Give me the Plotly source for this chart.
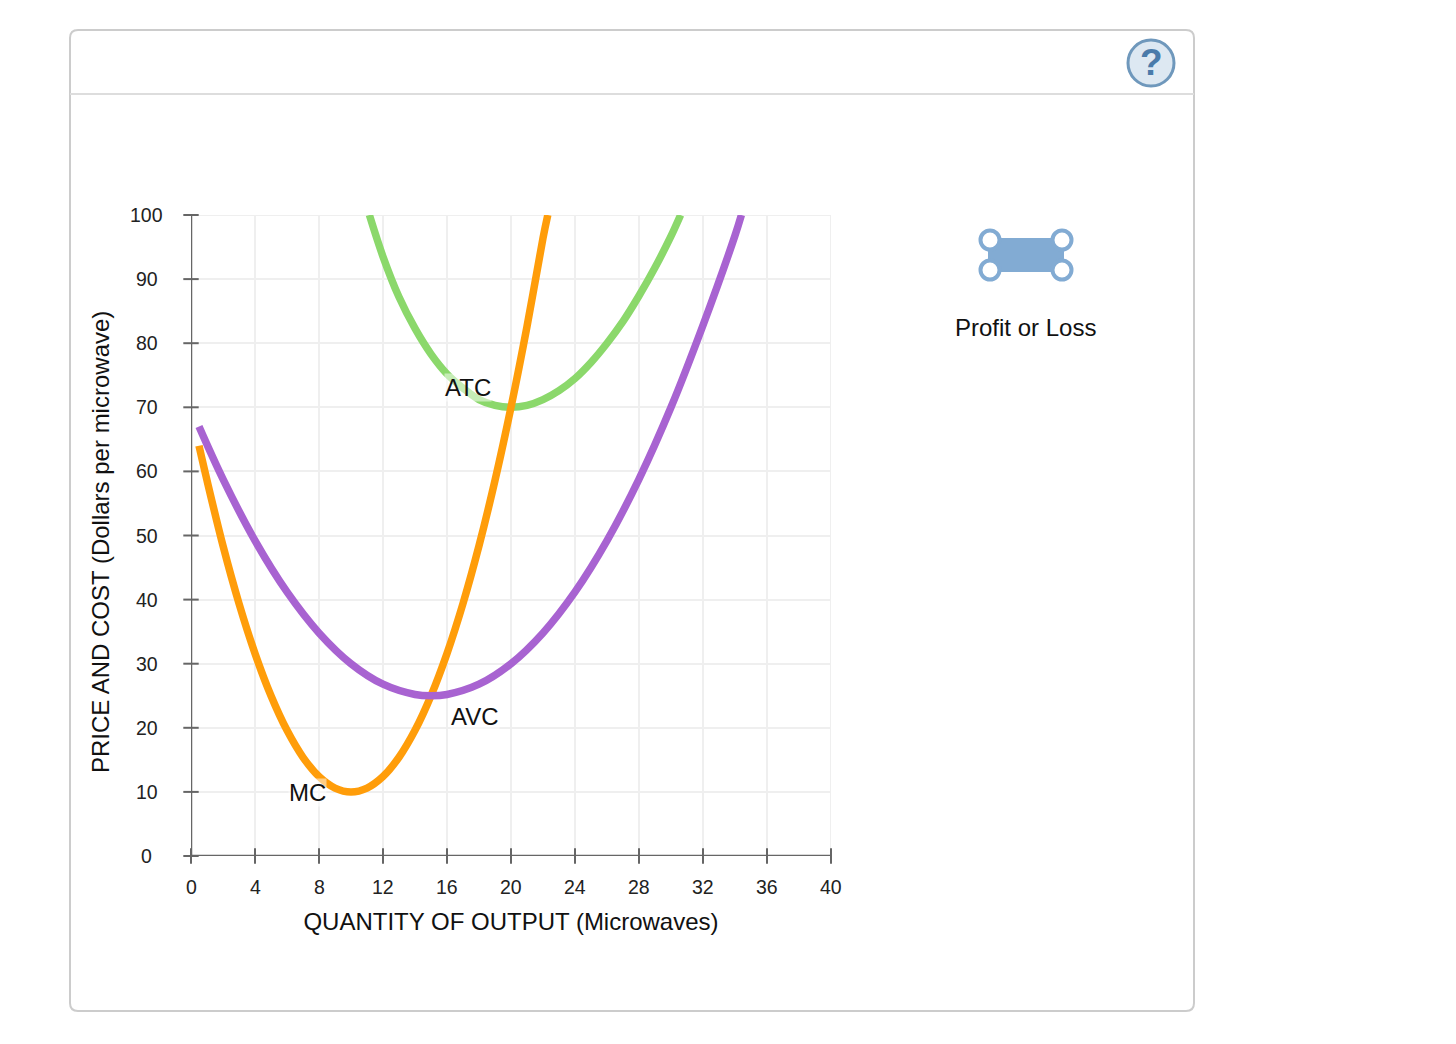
import plotly.graph_objects as go

W = 1456
H = 1044

mc_q = [0.5, 1, 2, 3, 4, 5, 6, 7, 8, 9, 10, 11, 12, 13, 14, 15, 16, 17, 18, 19, 20, 21, 22, 22.3]
mc_cost = [64, 58.6, 48.4, 39.4, 31.6, 25, 19.6, 15.4, 12.4, 10.6, 10, 10.6, 12.4, 15.4, 19.6, 25,
           31.6, 39.4, 48.4, 58.6, 70, 82.6, 96.4, 100]
avc_q = [0.5, 2, 4, 6, 8, 10, 12, 14, 15, 16, 18, 20, 22, 24, 26, 28, 30, 32, 34, 34.4]
avc_cost = [67, 58.8, 49.2, 41.2, 34.8, 30, 26.8, 25.2, 25, 25.2, 26.8, 30, 34.8, 41.2, 49.2, 58.8,
            70, 82.8, 96.8, 100]
atc_q = [11.15, 12, 13, 14, 15, 16, 17, 18, 19, 20, 21, 22, 23, 24, 25, 26, 27, 28, 29, 30, 30.6]
atc_cost = [100, 93.5, 87.2, 82.3, 78.3, 75.2, 73, 71.2, 70.3, 70, 70.3, 71.2, 72.6, 74.5, 77, 80,
            83.4, 87.4, 91.8, 96.7, 100]

x_ticks = [0, 4, 8, 12, 16, 20, 24, 28, 32, 36, 40]
y_ticks = [0, 10, 20, 30, 40, 50, 60, 70, 80, 90, 100]

GREEN = '#8BD86B'
PURPLE = '#A863D1'
ORANGE = '#FF9D0A'
AXIS = '#666666'
GRID = '#EFEFEF'
BLUE = '#82ABD3'
FONT = 'Liberation Sans'
TEXT = '#111111'


def px(x):
    return x / W


def py(y):
    return 1 - y / H


def circle(cx, cy, r, fill, stroke, width):
    return dict(type='circle', xref='paper', yref='paper', x0=px(cx - r), x1=px(cx + r),
                y0=py(cy + r), y1=py(cy - r), fillcolor=fill, line=dict(color=stroke, width=width))


fig = go.Figure()

for q, cost, color, name in [(atc_q, atc_cost, GREEN, 'ATC'),
                             (mc_q, mc_cost, ORANGE, 'MC'),
                             (avc_q, avc_cost, PURPLE, 'AVC')]:
    fig.add_trace(go.Scatter(x=q, y=cost, mode='lines', name=name, cliponaxis=False,
                             line=dict(color=color, width=7.5, shape='spline')))

# axis lines with tick marks that cross them
fig.add_trace(go.Scatter(x=x_ticks, y=[0] * len(x_ticks), mode='lines+markers', cliponaxis=False,
                         line=dict(color=AXIS, width=2.5),
                         marker=dict(symbol='line-ns', size=11, line=dict(color=AXIS, width=2))))
fig.add_trace(go.Scatter(x=[0] * len(y_ticks), y=y_ticks, mode='lines+markers', cliponaxis=False,
                         line=dict(color=AXIS, width=2.5),
                         marker=dict(symbol='line-ew', size=11, line=dict(color=AXIS, width=2))))

annotations = []
for t in x_ticks:
    annotations.append(dict(x=t, y=0, xref='x', yref='y', text=str(t), showarrow=False, yshift=-31,
                            font=dict(size=19.5, color='#222222')))
for t in y_ticks:
    annotations.append(dict(x=0, y=t, xref='x', yref='y', text=str(t), showarrow=False, xshift=-44.5,
                            font=dict(size=19.5, color='#222222')))
for label, lx, ly in [('ATC', 17.33, 73.1), ('AVC', 17.72, 21.75), ('MC', 7.3, 9.9)]:
    annotations.append(dict(x=lx, y=ly, xref='x', yref='y', text=label, showarrow=False,
                            bgcolor='rgba(255,255,255,0.5)', borderpad=0,
                            font=dict(size=24, color=TEXT)))
annotations.append(dict(x=px(100), y=py(542), xref='paper', yref='paper', xanchor='center', yanchor='middle',
                        text='PRICE AND COST (Dollars per microwave)', textangle=-90, showarrow=False,
                        font=dict(size=24, color=TEXT)))
annotations.append(dict(x=px(1025.5), y=py(327), xref='paper', yref='paper', xanchor='center', yanchor='middle',
                        text='Profit or Loss', showarrow=False, font=dict(size=24, color=TEXT)))
annotations.append(dict(x=px(1151), y=py(63), xref='paper', yref='paper', xanchor='center', yanchor='middle',
                        text='<b>?</b>', showarrow=False, font=dict(size=37, color='#4A7BAA')))

shapes = [
    dict(type='path', xref='paper', yref='paper', line=dict(color='#CCCCCC', width=2), layer='below',
         path=f'M {px(78)} {py(30)} L {px(1186)} {py(30)} Q {px(1194)} {py(30)} {px(1194)} {py(38)} '
              f'L {px(1194)} {py(1003)} Q {px(1194)} {py(1011)} {px(1186)} {py(1011)} '
              f'L {px(78)} {py(1011)} Q {px(70)} {py(1011)} {px(70)} {py(1003)} '
              f'L {px(70)} {py(38)} Q {px(70)} {py(30)} {px(78)} {py(30)} Z'),
    dict(type='line', xref='paper', yref='paper', x0=px(70), x1=px(1194), y0=py(94), y1=py(94),
         line=dict(color='#DDDDDD', width=2), layer='below'),
    # plotly drops the gridlines on the far edges of the plot
    dict(type='line', xref='x', yref='y', x0=0, x1=40, y0=100, y1=100, line=dict(color=GRID, width=2), layer='below'),
    dict(type='line', xref='x', yref='y', x0=40, x1=40, y0=0, y1=100, line=dict(color=GRID, width=2), layer='below'),
    circle(1151, 63, 23, '#DDE8F2', '#6F98BC', 3),
    dict(type='rect', xref='paper', yref='paper', x0=px(988), x1=px(1064), y0=py(272), y1=py(238),
         fillcolor=BLUE, line=dict(width=0)),
    circle(990, 240, 9.5, 'white', BLUE, 4),
    circle(1062, 240, 9.5, 'white', BLUE, 4),
    circle(990, 270, 9.5, 'white', BLUE, 4),
    circle(1062, 270, 9.5, 'white', BLUE, 4),
]

fig.update_layout(
    width=W,
    height=H,
    margin=dict(l=0, r=0, t=0, b=0),
    paper_bgcolor='white',
    plot_bgcolor='white',
    showlegend=False,
    font=dict(family=FONT),
    annotations=annotations,
    shapes=shapes,
    xaxis=dict(domain=[px(191), px(831)], range=[0, 40], tickvals=x_ticks, showticklabels=False,
               gridcolor=GRID, gridwidth=2, zeroline=False, showline=False,
               title=dict(text='QUANTITY OF OUTPUT (Microwaves)', standoff=57,
                          font=dict(size=24, color=TEXT))),
    yaxis=dict(domain=[py(856), py(215)], range=[0, 100], tickvals=y_ticks, showticklabels=False,
               gridcolor=GRID, gridwidth=2, zeroline=False, showline=False),
)

fig.write_html('out.html', config={'displayModeBar': False},
               post_script="document.body.style.margin='0';document.body.style.overflow='hidden';")
